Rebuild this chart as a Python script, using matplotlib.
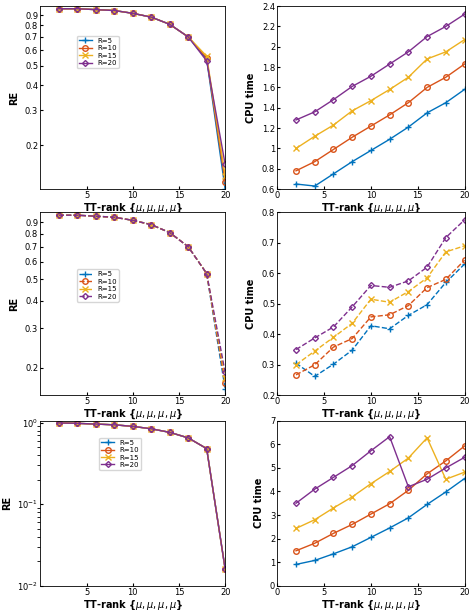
import matplotlib
matplotlib.use("Agg")
import matplotlib.pyplot as plt
import numpy as np

x = [2, 4, 6, 8, 10, 12, 14, 16, 18, 20]
labels = ["R=5", "R=10", "R=15", "R=20"]
colors = ["#0072BD", "#D95319", "#EDB120", "#7E2F8E"]
markers = ["+", "o", "x", "D"]

re1 = [[0.97, 0.97, 0.96, 0.95, 0.92, 0.88, 0.81, 0.70, 0.54, 0.12],
       [0.97, 0.97, 0.96, 0.95, 0.92, 0.88, 0.81, 0.70, 0.55, 0.13],
       [0.97, 0.97, 0.96, 0.95, 0.92, 0.88, 0.81, 0.70, 0.56, 0.14],
       [0.97, 0.97, 0.96, 0.95, 0.92, 0.88, 0.81, 0.70, 0.53, 0.16]]
cpu1 = [[0.65, 0.63, 0.75, 0.87, 0.98, 1.09, 1.21, 1.35, 1.45, 1.58],
        [0.78, 0.87, 0.99, 1.11, 1.22, 1.33, 1.45, 1.60, 1.70, 1.83],
        [1.00, 1.12, 1.23, 1.37, 1.47, 1.58, 1.70, 1.88, 1.95, 2.07],
        [1.28, 1.36, 1.48, 1.61, 1.71, 1.83, 1.95, 2.10, 2.20, 2.32]]
re2 = [[0.97, 0.97, 0.96, 0.95, 0.92, 0.88, 0.81, 0.70, 0.53, 0.16],
       [0.97, 0.97, 0.96, 0.95, 0.92, 0.88, 0.81, 0.70, 0.53, 0.17],
       [0.97, 0.97, 0.96, 0.95, 0.92, 0.88, 0.81, 0.70, 0.53, 0.18],
       [0.97, 0.97, 0.96, 0.95, 0.92, 0.88, 0.81, 0.70, 0.53, 0.19]]
cpu2 = [[0.305, 0.262, 0.302, 0.348, 0.428, 0.418, 0.462, 0.497, 0.570, 0.630],
        [0.267, 0.300, 0.358, 0.386, 0.457, 0.464, 0.494, 0.553, 0.580, 0.643],
        [0.300, 0.345, 0.390, 0.436, 0.515, 0.505, 0.540, 0.585, 0.670, 0.690],
        [0.350, 0.388, 0.424, 0.490, 0.560, 0.554, 0.575, 0.620, 0.717, 0.775]]
re3 = [[0.99, 0.98, 0.96, 0.94, 0.90, 0.84, 0.76, 0.65, 0.48, 0.016],
       [0.99, 0.98, 0.96, 0.94, 0.90, 0.84, 0.76, 0.65, 0.48, 0.016],
       [0.99, 0.98, 0.96, 0.94, 0.90, 0.84, 0.76, 0.65, 0.48, 0.016],
       [0.99, 0.98, 0.96, 0.94, 0.90, 0.84, 0.76, 0.65, 0.48, 0.016]]
cpu3 = [[0.90, 1.07, 1.35, 1.65, 2.05, 2.45, 2.88, 3.45, 3.98, 4.55],
        [1.48, 1.80, 2.22, 2.60, 3.04, 3.48, 4.05, 4.75, 5.30, 5.93],
        [2.43, 2.80, 3.30, 3.77, 4.33, 4.85, 5.42, 6.28, 4.52, 4.82],
        [3.50, 4.10, 4.60, 5.10, 5.73, 6.33, 4.20, 4.52, 5.00, 5.45]]

fig = plt.figure(figsize=(4.74, 6.10), dpi=100)
xlabel = r"TT-rank {$\mu,\mu,\mu,\mu$}"
rows = [(re1, cpu1, "-"), (re2, cpu2, "--"), (re3, cpu3, "-")]
tops = [0.99, 0.652, 0.31]
heights = [0.30, 0.30, 0.27]
for i, (re, cpu, ls) in enumerate(rows):
    top = tops[i]
    h = heights[i]
    axl = fig.add_axes([0.085, top - h, 0.39, h])
    axr = fig.add_axes([0.585, top - h, 0.395, h])
    for k in range(4):
        mk = markers[k]
        kw = dict(color=colors[k], ls=ls, lw=1, marker=mk, ms=4 if mk != "D" else 3,
                  markerfacecolor="none", label=labels[k])
        axl.plot(x, re[k], **kw)
        axr.plot(x, cpu[k], **kw)
    axl.set_yscale("log")
    axl.set_xlim(0, 20)
    axr.set_xlim(0, 20)
    axl.set_xticks([5, 10, 15, 20])
    axr.set_xticks([0, 5, 10, 15, 20])
    if i < 2:
        axl.set_ylim(0.12 if i == 0 else 0.15, 1.0)
        yt = [0.2, 0.3, 0.4, 0.5, 0.6, 0.7, 0.8, 0.9]
        axl.set_yticks(yt)
        axl.set_yticklabels([str(v) for v in yt])
        axl.minorticks_off()
    else:
        axl.set_ylim(0.01, 1.05)
    axl.set_ylabel("RE", fontsize=7, fontweight="bold")
    axr.set_ylabel("CPU time", fontsize=7, fontweight="bold")
    lkw = dict(loc="center left", fontsize=5, handlelength=1.8, borderpad=0.3, labelspacing=0.2)
    if i == 0:
        axr.set_ylim(0.6, 2.4)
        axr.set_yticks([0.6, 0.8, 1, 1.2, 1.4, 1.6, 1.8, 2, 2.2, 2.4])
        axr.set_yticklabels(["0.6", "0.8", "1", "1.2", "1.4", "1.6", "1.8", "2", "2.2", "2.4"])
        axl.legend(bbox_to_anchor=(0.18, 0.75), **lkw)
    elif i == 1:
        axr.set_ylim(0.2, 0.8)
        axl.legend(bbox_to_anchor=(0.18, 0.6), **lkw)
    else:
        axr.set_ylim(0, 7)
        axl.legend(bbox_to_anchor=(0.3, 0.8), **lkw)
    for ax in (axl, axr):
        ax.set_xlabel(xlabel, fontsize=7, fontweight="bold", labelpad=1)
        ax.tick_params(labelsize=6, direction="in", length=2, pad=1.5)
        for s in ax.spines.values():
            s.set_linewidth(0.6)

fig.savefig("out.png", dpi=100)
